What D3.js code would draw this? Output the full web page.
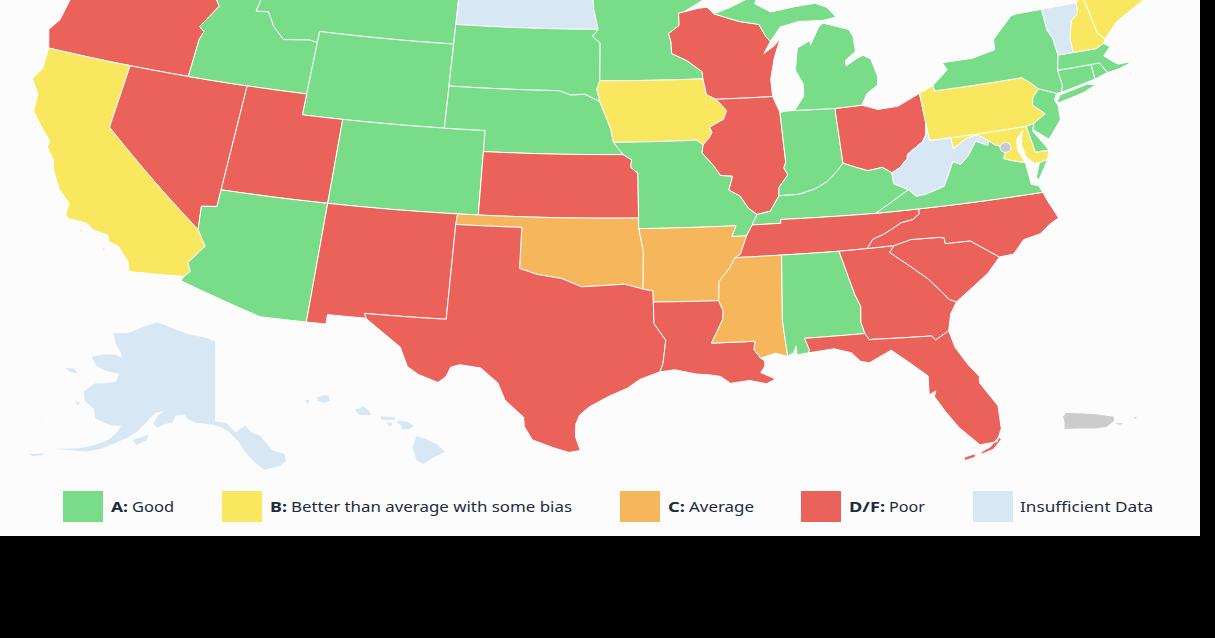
<!DOCTYPE html>
<html>
<head>
<meta charset="utf-8">
<script src="https://cdn.jsdelivr.net/npm/d3@7"></script>
<style>
  html, body { margin: 0; background: #000; }
  svg { display: block; }
  text { font-family: "Noto Sans", sans-serif; fill: #1d2b3f; }
</style>
</head>
<body>
<div class="StateMap"></div>
<script>
// Grades
const gradeKeys = ["A", "B", "C", "DF", "NA"];
const gradeColors = ["#78dc88", "#f8e75f", "#f5b65c", "#eb625b", "#d7e7f3"];
const gradeA = ["Idaho", "Montana", "Wyoming", "South Dakota", "Nebraska", "Colorado", "Arizona", "Minnesota", "Michigan", "Indiana", "Kentucky", "Virginia", "Missouri", "Alabama", "New York", "Connecticut", "Rhode Island", "Massachusetts", "New Jersey", "Delaware"];
const gradeB = ["California", "Iowa", "Pennsylvania", "Maryland", "New Hampshire", "Maine"];
const gradeC = ["Oklahoma", "Arkansas", "Mississippi"];
const gradeDF = ["Oregon", "Nevada", "Utah", "New Mexico", "Texas", "Kansas", "Louisiana", "Wisconsin", "Illinois", "Ohio", "Tennessee", "North Carolina", "South Carolina", "Georgia", "Florida"];
const gradeNA = ["North Dakota", "Vermont", "West Virginia", "Alaska", "Hawaii"];

// Legend
const legendKeys = ["A:", "B:", "C:", "D/F:", ""];
const legendNames = ["Good", "Better than average with some bias", "Average", "Poor", "Insufficient Data"];

// Shared borders, lon/lat
const stCroix = [[-92.02,46.71],[-92.29,46.66],[-92.29,46.08],[-92.87,45.7],[-92.76,45.3],[-92.75,44.75],[-92.0,44.4],[-91.25,43.85],[-91.22,43.5]];
const riverIaWi = [[-91.22,43.5],[-91.1,42.75],[-90.64,42.51]];
const riverIaIl = [[-90.64,42.51],[-90.15,41.95],[-90.34,41.55],[-91.05,41.2],[-90.95,40.95],[-91.1,40.7],[-91.42,40.38]];
const riverMoIl = [[-91.42,40.38],[-91.5,40.0],[-91.0,39.4],[-90.68,38.9],[-90.12,38.85],[-90.2,38.6],[-90.35,38.2],[-89.85,37.9],[-89.5,37.3],[-89.13,36.98]];
const riverMoKy = [[-89.13,36.98],[-89.4,36.5]];
const riverMoTn = [[-89.4,36.5],[-89.7,36.0]];
const riverArTn = [[-89.7,36.0],[-90.05,35.15],[-90.3,35.0]];
const riverArMs = [[-90.3,35.0],[-90.6,34.5],[-91.1,33.9],[-91.17,33.0]];
const riverLaMs = [[-91.17,33.0],[-91.0,32.5],[-91.05,32.1],[-91.6,31.0],[-89.73,31.0],[-89.8,30.6],[-89.55,30.18]];
const missouriIaNe = [[-96.45,42.5],[-96.1,41.7],[-95.9,41.2],[-95.77,40.58]];
const missouriMoNe = [[-95.77,40.58],[-95.31,40.0]];
const missouriMoKs = [[-95.31,40.0],[-94.9,39.75],[-94.95,39.4],[-94.61,39.11]];
const sdMn = [[-96.56,45.94],[-96.85,45.6],[-96.45,45.3],[-96.45,43.5]];
const sdIa = [[-96.45,43.5],[-96.6,43.1],[-96.45,42.5]];
const sdNe = [[-96.45,42.5],[-97.2,42.85],[-97.9,42.8],[-98.5,43.0],[-104.05,43.0]];
const redRiverNd = [[-97.23,49.0],[-97.1,48.0],[-96.85,47.5],[-96.8,46.9],[-96.56,45.94]];
const redRiver = [[-100.0,34.56],[-99.2,34.3],[-98.1,34.13],[-97.2,33.75],[-96.5,33.8],[-95.3,33.88],[-94.48,33.64]];
const sabine = [[-94.04,33.02],[-94.04,32.0],[-93.55,31.2],[-93.7,30.1],[-93.84,29.7]];
const ohioWv = [[-80.52,40.64],[-80.65,40.0],[-80.87,39.7],[-81.7,39.2],[-81.75,39.0],[-82.2,38.6],[-82.6,38.42]];
const ohioKy = [[-82.6,38.42],[-83.0,38.72],[-83.7,38.63],[-84.25,38.85],[-84.82,39.1]];
const ohioIn = [[-84.82,39.1],[-85.2,38.7],[-85.75,38.27],[-86.3,38.0],[-87.1,37.8],[-88.03,37.8]];
const ohioIl = [[-88.03,37.8],[-88.5,37.1],[-89.13,36.98]];
const wabash = [[-87.53,41.72],[-87.53,39.35],[-87.65,39.1],[-87.5,38.75],[-87.98,38.2],[-88.03,37.8]];
const kyWv = [[-82.6,38.42],[-82.6,37.9],[-81.97,37.54]];
const kyVa = [[-81.97,37.54],[-83.68,36.6]];
const kyTn = [[-83.68,36.6],[-88.07,36.68],[-88.07,36.5],[-89.4,36.5]];
const vaWv = [[-81.97,37.54],[-81.68,37.2],[-81.22,37.24],[-80.3,37.5],[-80.0,38.0],[-79.65,38.6],[-79.3,38.42],[-78.87,38.77],[-78.35,39.4],[-77.83,39.13],[-77.72,39.32]];
const mdWv = [[-77.72,39.32],[-78.2,39.68],[-78.75,39.6],[-79.48,39.2],[-79.48,39.72]];
const potomac = [[-76.3,38.05],[-76.9,38.25],[-77.25,38.4],[-77.04,38.79],[-77.12,38.93],[-77.5,39.1],[-77.72,39.32]];
const tnNc = [[-81.68,36.59],[-81.7,36.35],[-82.05,36.12],[-82.6,36.03],[-83.1,35.77],[-83.5,35.57],[-84.0,35.4],[-84.32,34.99]];
const ncSc = [[-78.55,33.86],[-79.67,34.8],[-80.8,34.82],[-80.8,35.1],[-81.05,35.15],[-82.3,35.2],[-83.1,35.0]];
const savannah = [[-83.1,35.0],[-83.35,34.7],[-82.6,34.0],[-81.9,33.3],[-81.4,32.6],[-81.15,32.2],[-80.85,32.03]];
const chattahoochee = [[-85.0,31.0],[-85.1,31.55],[-85.0,32.3],[-85.18,32.87],[-85.6,34.98]];
const gaFl = [[-81.43,30.72],[-82.05,30.36],[-82.2,30.57],[-84.86,30.7],[-85.0,31.0]];
const snake = [[-117.03,42.0],[-117.03,43.8],[-116.9,44.2],[-117.2,44.4],[-116.5,45.5],[-116.92,45.99]];
const bitterroot = [[-111.05,44.48],[-111.5,44.55],[-112.8,44.4],[-113.45,44.95],[-113.9,45.6],[-114.55,45.55],[-114.35,46.65],[-115.3,47.25],[-116.05,48.0],[-116.05,49.0]];
const colorado = [[-114.05,36.2],[-114.75,36.1],[-114.63,35.0]];
const colorado2 = [[-114.63,35.0],[-114.13,34.27],[-114.7,33.4],[-114.5,33.0],[-114.72,32.72]];
const wiUp = [[-90.42,46.57],[-89.1,46.14],[-88.1,45.95],[-87.8,45.35],[-87.6,45.1]];
const miOh = [[-84.8,41.7],[-83.45,41.73]];
const paNy = [[-79.76,42.0],[-75.35,42.0],[-75.05,41.75],[-74.7,41.36]];
const delaware = [[-74.7,41.36],[-75.1,40.97],[-75.2,40.65],[-74.72,40.15],[-75.4,39.8]];
const vtNh = [[-71.5,45.0],[-71.6,44.5],[-72.05,44.2],[-72.4,43.4],[-72.46,42.73]];
const vtNy = [[-73.35,45.0],[-73.4,44.0],[-73.25,43.55],[-73.25,42.75]];

const rev = arc => arc.slice().reverse();

// State outlines, lon/lat
const oregon = [[[-124.2,42.0],...snake,[-118.98,46.0],[-119.3,45.93],[-120.5,45.7],[-121.2,45.65],[-122.3,45.55],[-122.8,45.9],[-123.2,46.15],[-123.95,46.2],[-124.05,44.8],[-124.2,43.4],[-124.55,42.85]]];
const california = [[[-124.2,42.0],[-120.0,42.0],[-120.0,39.0],...colorado2,[-117.12,32.53],[-117.3,33.0],[-117.9,33.6],[-118.4,33.75],[-118.5,34.03],[-119.2,34.15],[-119.6,34.4],[-120.45,34.45],[-120.62,34.6],[-120.65,35.15],[-121.3,35.7],[-121.9,36.6],[-122.0,36.95],[-122.5,37.5],[-122.5,37.8],[-123.0,38.25],[-123.75,39.0],[-123.85,39.8],[-124.4,40.45],[-124.1,41.0]],
  [[-119.9,34.07],[-119.55,34.05],[-119.7,33.96]], [[-118.6,33.45],[-118.35,33.35],[-118.5,33.3]]];
const nevada = [[[-120.0,42.0],[-114.05,42.0],...colorado,[-120.0,39.0]]];
const idaho = [[...snake,[-117.04,46.42],[-117.04,49.0],...rev(bitterroot),[-111.05,42.0]]];
const montana = [[[-116.05,49.0],[-104.05,49.0],[-104.05,45.0],[-111.05,45.0],...bitterroot]];
const wyoming = [[[-111.05,45.0],[-104.05,45.0],[-104.05,41.0],[-111.05,41.0]]];
const utah = [[[-114.05,42.0],[-111.05,42.0],[-111.05,41.0],[-109.05,41.0],[-109.05,37.0],[-114.05,37.0]]];
const coloradoState = [[[-109.05,41.0],[-102.05,41.0],[-102.05,37.0],[-109.05,37.0]]];
const arizona = [[[-114.05,37.0],[-109.05,37.0],[-109.05,31.33],[-111.07,31.33],[-114.8,32.5],...rev(colorado2),...rev(colorado)]];
const newMexico = [[[-109.05,37.0],[-103.0,37.0],[-103.04,36.5],[-103.06,32.0],[-106.62,32.0],[-106.5,31.78],[-108.2,31.78],[-108.2,31.33],[-109.05,31.33]]];
const northDakota = [[[-104.05,49.0],...redRiverNd,[-104.05,45.94]]];
const southDakota = [[[-104.05,45.94],...sdMn,...sdIa,...sdNe]];
const nebraska = [[...rev(sdNe),...missouriIaNe,...missouriMoNe,[-102.05,40.0],[-102.05,41.0],[-104.05,41.0]]];
const kansas = [[[-102.05,40.0],...missouriMoKs,[-94.62,37.0],[-102.04,37.0]]];
const oklahoma = [[[-103.0,37.0],[-94.62,37.0],[-94.62,36.5],[-94.43,35.4],...rev(redRiver),[-100.0,36.5],[-103.04,36.5]]];
const texas = [[[-103.04,36.5],[-100.0,36.5],...redRiver,[-94.04,33.55],...sabine,[-94.7,29.35],[-95.2,28.95],[-96.0,28.55],[-96.8,28.05],[-97.2,27.65],[-97.35,27.2],[-97.35,26.6],[-97.15,25.95],[-97.6,25.85],[-98.2,26.05],[-99.1,26.42],[-99.45,27.05],[-99.5,27.5],[-100.3,28.28],[-100.65,29.1],[-101.05,29.45],[-101.4,29.77],[-102.3,29.88],[-102.67,29.74],[-102.85,29.25],[-103.15,28.98],[-104.0,29.3],[-104.5,29.65],[-104.9,30.55],[-105.6,31.08],[-106.5,31.75],[-106.62,32.0],[-103.06,32.0]]];
const minnesota = [[...redRiverNd,...sdMn,[-91.22,43.5],...rev(stCroix),[-90.85,47.3],[-89.6,48.0],[-90.8,48.2],[-92.0,48.3],[-92.95,48.62],[-93.8,48.55],[-94.6,48.72],[-94.82,49.32],[-95.15,49.38],[-95.15,49.0]]];
const iowa = [[[-96.45,43.5],...riverIaWi,...riverIaIl,[-91.73,40.61],...rev(missouriIaNe),...rev(sdIa)]];
const missouri = [[[-95.77,40.58],[-91.73,40.61],...riverMoIl,...riverMoKy,...riverMoTn,[-90.37,36.0],[-90.15,36.5],[-94.62,36.5],[-94.62,37.0],...rev(missouriMoKs)]];
const arkansas = [[[-94.62,36.5],[-90.15,36.5],[-90.37,36.0],...riverArTn,...riverArMs,[-94.04,33.02],[-94.04,33.55],[-94.48,33.64],[-94.43,35.4]]];
const louisiana = [[...riverLaMs,[-89.4,30.05],[-89.4,29.8],[-89.6,29.5],[-89.0,29.15],[-89.4,28.95],[-90.1,29.15],[-90.9,29.05],[-91.3,29.4],[-91.8,29.5],[-92.3,29.55],[-93.2,29.78],...rev(sabine)]];
const wisconsin = [[[-92.02,46.71],[-91.2,46.87],[-90.75,46.9],...wiUp,[-88.0,44.55],[-87.4,44.9],[-87.05,45.25],[-87.5,44.3],[-87.8,43.3],[-87.8,42.49],...rev(riverIaWi),...rev(stCroix)]];
const illinois = [[[-87.8,42.49],...wabash,...ohioIl,...rev(riverMoIl),...rev(riverIaIl)]];
const indiana = [[[-87.53,41.72],[-87.2,41.76],[-86.8,41.76],[-84.8,41.7],...ohioIn,...rev(wabash)]];
const ohio = [[...miOh,[-82.7,41.45],[-81.7,41.5],[-80.52,41.98],...ohioWv,...ohioKy]];
const michigan = [[[-86.8,41.76],...miOh,[-83.1,42.25],[-82.5,42.6],[-82.42,43.0],[-82.6,43.85],[-82.95,44.07],[-83.3,43.95],[-83.9,43.65],[-83.9,43.9],[-83.3,44.3],[-83.3,45.0],[-83.45,45.35],[-84.75,45.78],[-85.0,45.6],[-85.55,44.8],[-85.55,45.0],[-86.25,44.7],[-86.5,43.65],[-86.2,43.0],[-86.25,42.4]],
  [...wiUp,[-87.0,45.75],[-86.0,45.95],[-84.75,45.9],[-84.0,46.0],[-84.4,46.5],[-85.0,46.75],[-86.1,46.67],[-87.4,46.5],[-88.2,46.95],[-87.9,47.45],[-89.5,46.85]]];
const kentucky = [[...ohioKy,...ohioIn,...ohioIl,...riverMoKy,...rev(kyTn),...rev(kyVa),...rev(kyWv)]];
const tennessee = [[...rev(kyTn),[-81.68,36.59],...tnNc,[-85.6,34.98],[-88.2,35.0],...rev(riverArTn),...rev(riverMoTn)]];
const mississippi = [[[-88.2,35.0],[-88.47,31.9],[-88.4,30.2],[-88.9,30.38],...rev(riverLaMs),...rev(riverArMs)]];
const alabama = [[[-88.2,35.0],...rev(chattahoochee),[-87.6,31.0],[-87.45,30.45],[-87.5,30.3],[-88.0,30.23],[-88.0,30.65],[-88.13,30.35],[-88.4,30.2],[-88.47,31.9]]];
const georgia = [[[-84.32,34.99],...savannah,[-81.2,31.5],...gaFl,...chattahoochee]];
const florida = [[[-87.6,31.0],...rev(gaFl),[-81.3,29.9],[-80.9,29.0],[-80.55,28.4],[-80.6,28.1],[-80.05,26.9],[-80.12,25.8],[-80.4,25.2],[-81.1,25.15],[-81.8,26.1],[-82.2,26.9],[-82.55,27.7],[-82.45,27.95],[-82.75,27.8],[-82.65,28.7],[-83.4,29.5],[-84.0,30.1],[-85.0,29.6],[-85.35,29.7],[-85.7,30.15],[-86.4,30.4],[-87.5,30.3],[-87.45,30.45]],
  [[-81.85,24.48],[-81.4,24.58],[-81.35,24.76],[-81.8,24.65]], [[-81.15,24.68],[-80.6,24.86],[-80.2,25.3],[-80.3,25.4],[-80.7,25.0],[-81.1,24.8]]];
const southCarolina = [[...ncSc,...savannah,[-79.9,32.7],[-79.2,33.2]]];
const northCarolina = [[[-81.68,36.59],[-75.87,36.55],[-75.8,36.2],[-75.5,35.25],[-76.0,35.0],[-76.5,34.65],[-77.3,34.5],[-77.9,33.9],...ncSc,[-84.32,34.99],...rev(tnNc)]];
const virginia = [[[-83.68,36.6],[-81.68,36.59],[-75.87,36.55],[-76.0,36.9],[-76.3,37.0],[-76.3,37.9],...potomac,...rev(vaWv),...kyVa],
  [[-75.65,37.95],[-75.24,38.03],[-75.9,37.15],[-75.98,37.3]]];
const westVirginia = [[...ohioWv,...kyWv,...vaWv,...mdWv,[-80.52,39.72]]];
const maryland = [[[-79.48,39.72],[-75.79,39.72],[-75.7,38.46],[-75.05,38.45],[-75.24,38.03],[-75.65,37.95],[-75.9,37.95],[-76.2,38.35],[-76.25,38.9],[-76.1,39.4],[-76.0,39.55],[-76.4,39.2],[-76.5,38.7],[-76.35,38.2],...potomac,...mdWv]];
const delawareState = [[[-75.79,39.72],[-75.4,39.8],[-75.55,39.45],[-75.05,38.45],[-75.7,38.46]]];
const pennsylvania = [[[-80.52,41.98],[-79.76,42.27],...paNy,...delaware,[-75.79,39.72],[-79.48,39.72],[-80.52,39.72],[-80.52,40.64]]];
const newJersey = [[[-74.7,41.36],[-73.9,41.0],[-74.1,40.7],[-74.0,40.45],[-74.1,39.75],[-74.9,38.95],[-75.5,39.5],...rev(delaware)]];
const newYork = [[[-79.76,42.27],[-78.9,42.9],[-79.05,43.27],[-77.5,43.27],[-76.3,43.5],[-76.2,44.0],[-75.0,44.95],[-74.7,45.0],...vtNy,[-73.5,42.05],[-73.5,41.3],[-73.65,41.0],[-73.9,41.0],...rev(paNy)],
  [[-74.0,40.6],[-73.75,40.9],[-72.3,41.15],[-71.9,41.05],[-72.6,40.8],[-73.9,40.55]]];
const connecticut = [[[-73.5,42.05],[-71.8,42.02],[-71.85,41.32],[-73.65,41.0],[-73.5,41.3]]];
const rhodeIsland = [[[-71.8,42.02],[-71.38,42.02],[-71.15,41.5],[-71.85,41.32]]];
const massachusetts = [[[-73.25,42.75],[-72.46,42.73],[-71.3,42.7],[-70.85,42.87],[-70.6,42.65],[-71.05,42.3],[-70.7,41.95],[-70.5,41.78],[-70.0,41.78],[-70.25,42.07],[-69.95,41.7],[-70.6,41.55],[-71.15,41.5],[-71.38,42.02],[-71.8,42.02],[-73.5,42.05]],
  [[-70.82,41.36],[-70.5,41.4],[-70.6,41.33]], [[-70.2,41.3],[-69.97,41.3],[-70.05,41.24]]];
const vermont = [[[-73.35,45.0],...vtNh,...rev(vtNy)]];
const newHampshire = [[...vtNh,[-71.3,42.7],[-70.85,42.87],[-70.7,43.07],[-70.97,43.4],[-71.03,44.65],[-71.08,45.3]]];
const maine = [[[-71.08,45.3],[-70.4,45.8],[-70.25,46.2],[-70.0,46.7],[-69.2,47.45],[-68.3,47.35],[-67.8,47.07],[-67.8,45.7],[-67.0,44.85],[-68.5,44.3],[-69.8,43.75],[-70.7,43.07],[-70.97,43.4],[-71.03,44.65]]];

const alaska = [[[-141.0,69.65],[-143.5,70.1],[-148.0,70.4],[-152.0,70.85],[-156.6,71.35],[-160.0,70.4],[-163.0,69.3],[-166.2,68.9],[-164.5,67.8],[-162.6,67.0],[-161.8,66.4],[-163.5,66.6],[-166.0,66.2],[-168.0,65.6],[-166.0,64.7],[-163.0,64.5],[-161.0,64.6],[-161.0,63.6],[-163.0,63.1],[-164.8,62.8],[-166.0,61.6],[-165.0,60.6],[-162.8,60.0],[-162.0,59.0],[-159.0,58.6],[-157.2,58.8],[-157.5,58.0],[-158.5,56.9],[-160.5,55.9],[-162.5,55.2],[-166.1,54.4],[-163.0,54.85],[-161.0,55.1],[-159.0,55.8],[-157.5,56.6],[-155.5,57.6],[-154.2,58.5],[-153.4,59.3],[-152.7,60.2],[-151.8,60.9],[-150.2,61.2],[-151.3,60.7],[-151.9,59.6],[-151.0,59.2],[-149.8,59.7],[-148.5,60.0],[-148.2,60.8],[-146.5,61.0],[-146.0,60.5],[-144.5,60.1],[-141.5,59.95],[-139.8,59.6],[-138.5,59.0],[-137.0,57.8],[-136.3,56.8],[-135.0,55.5],[-133.5,54.4],[-131.0,54.75],[-130.0,55.2],[-130.0,56.0],[-131.8,56.6],[-133.4,58.4],[-134.8,58.9],[-135.7,59.7],[-137.5,59.0],[-139.0,60.1],[-141.0,60.3]],
  [[-154.6,57.4],[-153.2,57.9],[-152.2,58.3],[-152.4,57.6],[-153.8,56.9]],
  [[-166.6,60.2],[-165.6,60.3],[-165.8,59.9]],
  [[-171.7,63.4],[-170.0,63.7],[-168.8,63.3],[-170.3,63.2]],
  [[-170.4,57.2],[-170.1,57.25],[-170.2,57.1]],
  [[-169.0,53.0],[-168.0,53.3],[-167.1,53.6],[-167.2,53.3],[-168.4,52.9]]];
const hawaii = [[[-159.78,22.1],[-159.55,22.24],[-159.33,22.2],[-159.28,21.98],[-159.5,21.86],[-159.75,21.95]], [[-160.25,21.98],[-160.07,22.0],[-160.12,21.8]],
  [[-158.28,21.57],[-158.1,21.6],[-157.97,21.71],[-157.72,21.45],[-157.65,21.3],[-158.1,21.28],[-158.22,21.4]], [[-157.3,21.22],[-156.75,21.18],[-156.72,21.05],[-157.25,21.06]],
  [[-156.7,20.95],[-156.55,21.03],[-156.25,20.94],[-156.0,20.75],[-156.2,20.6],[-156.45,20.6],[-156.5,20.8]], [[-157.05,20.92],[-156.85,20.92],[-156.85,20.76],[-156.98,20.76]],
  [[-155.9,20.26],[-155.55,20.13],[-155.1,19.85],[-154.8,19.5],[-155.3,19.2],[-155.65,18.92],[-155.9,19.1],[-156.05,19.75]]];
const puertoRico = [[[-67.25,18.38],[-67.15,18.51],[-66.6,18.49],[-66.2,18.47],[-65.6,18.38],[-65.6,18.22],[-65.85,18.02],[-66.2,17.97],[-66.8,17.97],[-67.2,17.95],[-67.2,18.2]],
  [[-65.58,18.15],[-65.3,18.15],[-65.4,18.1]], [[-64.98,18.36],[-64.85,18.36],[-64.9,18.31]]];

const outlines = {
  "Oregon": oregon, "California": california, "Nevada": nevada, "Idaho": idaho, "Montana": montana, "Wyoming": wyoming,
  "Utah": utah, "Colorado": coloradoState, "Arizona": arizona, "New Mexico": newMexico, "North Dakota": northDakota,
  "South Dakota": southDakota, "Nebraska": nebraska, "Kansas": kansas, "Oklahoma": oklahoma, "Texas": texas,
  "Minnesota": minnesota, "Iowa": iowa, "Missouri": missouri, "Arkansas": arkansas, "Louisiana": louisiana,
  "Wisconsin": wisconsin, "Illinois": illinois, "Indiana": indiana, "Ohio": ohio, "Michigan": michigan,
  "Kentucky": kentucky, "Tennessee": tennessee, "Mississippi": mississippi, "Alabama": alabama, "Georgia": georgia,
  "Florida": florida, "South Carolina": southCarolina, "North Carolina": northCarolina, "Virginia": virginia,
  "West Virginia": westVirginia, "Maryland": maryland, "Delaware": delawareState, "Pennsylvania": pennsylvania,
  "New Jersey": newJersey, "New York": newYork, "Connecticut": connecticut, "Rhode Island": rhodeIsland,
  "Massachusetts": massachusetts, "Vermont": vermont, "New Hampshire": newHampshire, "Maine": maine
};

const width = 1200, height = 536;
const gradeColor = d3.scaleOrdinal(gradeKeys, gradeColors);
const gradeOf = new Map();
[gradeA, gradeB, gradeC, gradeDF, gradeNA].forEach((names, i) => names.forEach(n => gradeOf.set(n, gradeKeys[i])));

// Add points along long edges so that straight parallels come out curved
function densify(ring) {
  const out = [];
  ring.forEach((p, i) => {
    const q = ring[(i + 1) % ring.length];
    const steps = Math.max(1, Math.ceil(Math.max(Math.abs(q[0] - p[0]), Math.abs(q[1] - p[1]))));
    for (let s = 0; s < steps; s++) {
      out.push([p[0] + (q[0] - p[0]) * s / steps, p[1] + (q[1] - p[1]) * s / steps]);
    }
  });
  out.push(out[0]);
  return out;
}

function toFeature(name, rings) {
  return {
    type: "Feature",
    properties: { name },
    geometry: { type: "MultiPolygon", coordinates: rings.map(r => [densify(r)]) }
  };
}

// The picture is stretched sideways, so x and y get their own scale
function stretched(projection, sx, sy, tx, ty) {
  return d3.geoTransform({
    point(lon, lat) {
      const p = projection([lon, lat]);
      this.stream.point(p[0] * sx + tx, p[1] * sy + ty);
    }
  });
}

// Inset that fills a given box
function insetPath(projection, features, box) {
  const raw = d3.geoPath(stretched(projection, 1, 1, 0, 0));
  const b = raw.bounds({ type: "FeatureCollection", features });
  const sx = (box[1][0] - box[0][0]) / (b[1][0] - b[0][0]);
  const sy = (box[1][1] - box[0][1]) / (b[1][1] - b[0][1]);
  return d3.geoPath(stretched(projection, sx, sy, box[0][0] - b[0][0] * sx, box[0][1] - b[0][1] * sy));
}

const svg = d3.select(".StateMap").append("svg")
  .attr("width", 1215)
  .attr("height", 638);

svg.append("rect").attr("width", width).attr("height", height).attr("fill", "#fcfcfc");

const albers = d3.geoConicEqualArea().parallels([29.5, 45.5]).rotate([96, 0]).center([0, 0]).scale(1).translate([0, 0]);
const mapScaleX = 1565, mapScaleY = 1202;
const anchor = albers([-94.6, 37]);
const mainPath = d3.geoPath(stretched(albers, mapScaleX, mapScaleY, 639 - anchor[0] * mapScaleX, 218 - anchor[1] * mapScaleY));

const lower48 = Object.keys(outlines).map(n => toFeature(n, outlines[n]));

svg.append("g").selectAll("path")
  .data(lower48)
  .enter()
  .append("path")
  .attr("d", mainPath)
  .attr("fill", d => gradeColor(gradeOf.get(d.properties.name)))
  .attr("stroke", "#fff")
  .attr("stroke-width", 1)
  .attr("stroke-linejoin", "round");

// DC is drawn as an oversized dot
const dcCenter = mainPath.centroid({ type: "Point", coordinates: [-77.03, 38.9] });
svg.append("ellipse")
  .attr("cx", dcCenter[0]).attr("cy", dcCenter[1])
  .attr("rx", 5.5).attr("ry", 5)
  .attr("fill", "#c6c8d6")
  .attr("stroke", "#fff");

const alaskaFeature = toFeature("Alaska", alaska);
svg.append("path")
  .attr("d", insetPath(d3.geoConicEqualArea().parallels([55, 65]).rotate([141, 0]).scale(1000).translate([0, 0]), [alaskaFeature], [[29, 322], [286, 470]])(alaskaFeature))
  .attr("fill", gradeColor("NA"));

const hawaiiFeature = toFeature("Hawaii", hawaii);
svg.append("path")
  .attr("d", insetPath(d3.geoConicEqualArea().parallels([8, 18]).rotate([157, 0]).scale(1000).translate([0, 0]), [hawaiiFeature], [[305, 395], [445, 464]])(hawaiiFeature))
  .attr("fill", gradeColor("NA"));

const prFeature = toFeature("Puerto Rico", puertoRico);
svg.append("path")
  .attr("d", insetPath(d3.geoMercator().scale(1000).translate([0, 0]), [prFeature], [[1063, 413], [1137, 429]])(prFeature))
  .attr("fill", "#cccccc");

// Legend
const swatchX = [63, 222, 620, 801, 973];
const keyWidth = [17, 17, 17, 36, 0];
const nameWidth = [42, 281, 65, 36, 133];
const legend = svg.append("g").selectAll("g")
  .data(legendNames)
  .enter()
  .append("g")
  .attr("transform", (d, i) => `translate(${swatchX[i]},491)`);

legend.append("rect")
  .attr("width", 40)
  .attr("height", 31)
  .attr("fill", (d, i) => gradeColors[i]);

legend.append("text")
  .attr("x", 48)
  .attr("y", 21)
  .attr("font-size", 15)
  .attr("font-weight", 700)
  .attr("textLength", (d, i) => keyWidth[i] || null)
  .attr("lengthAdjust", "spacingAndGlyphs")
  .text((d, i) => legendKeys[i]);

legend.append("text")
  .attr("x", (d, i) => 47 + keyWidth[i] + (keyWidth[i] ? 5 : 0))
  .attr("y", 21)
  .attr("font-size", 15)
  .attr("textLength", (d, i) => nameWidth[i])
  .attr("lengthAdjust", "spacingAndGlyphs")
  .text(d => d);
</script>
</body>
</html>
